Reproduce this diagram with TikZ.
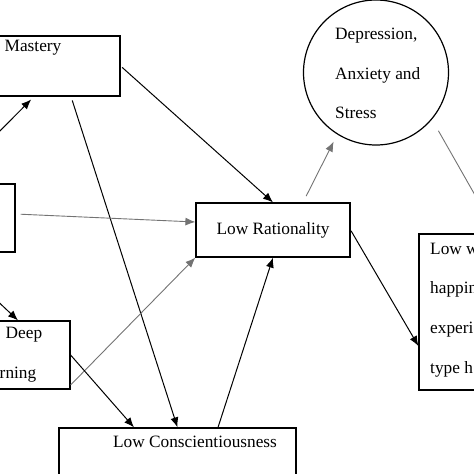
\documentclass[tikz,border=0pt]{standalone}
\usepackage{fontspec}
\setmainfont{Liberation Serif}
\usetikzlibrary{arrows.meta}
\newlength{\du}
\setlength{\du}{1pt}
\tikzset{
  box/.style={draw=black, line width=1.2pt, inner sep=0pt},
  lbl/.style={inner sep=0pt, font=\fontsize{17.3}{20}\selectfont},
  lbltall/.style={inner sep=0pt, align=left, font=\fontsize{17.3}{39.7}\selectfont},
  arr/.style={draw=black, line width=1pt, -{Latex[length=10pt,width=8pt]}},
  garr/.style={draw=black!55, line width=0.9pt, -{Latex[length=10pt,width=8pt]}},
}

\begin{document}
\begin{tikzpicture}
\pgftransformxscale{1.000000}
\pgftransformyscale{-1.000000}
\useasboundingbox (0\du,0\du) rectangle (474\du,474\du);
% boxes
\node[box, minimum width=130\du, minimum height=60\du] (mastery) at (55\du,66\du) {};
\node[lbl] (masterytxt) at (33\du,48\du) {Mastery};
\node[box, minimum width=75\du, minimum height=68\du] (leftbox) at (-22.5\du,218\du) {};
\node[box, minimum width=130\du, minimum height=68\du] (deep) at (5\du,355\du) {};
\node[lbl] (deeptxt) at (24\du,335\du) {Deep};
\node[lbl] (deeptxtb) at (18\du,375\du) {rning};
\node[box, lbl, minimum width=154\du, minimum height=54\du] (lowrat) at (273\du,230\du) {Low Rationality};
\node[box, minimum width=237\du, minimum height=72\du] (lowcon) at (177.5\du,464\du) {};
\node[lbl] (lowcontxt) at (195\du,442\du) {Low Conscientiousness};
\node[box, minimum width=141\du, minimum height=156\du] (rightbox) at (489.5\du,312\du) {};
\node[lbltall, anchor=west] (righttxt) at (430\du,310\du) {Low w\\happin\\experi\\type h};
% circle
\node[draw=black, line width=1.2pt, circle, minimum size=145\du, inner sep=0pt] (circ) at (376\du,72.5\du) {};
\node[lbltall, anchor=west] (circtxt) at (335\du,73.5\du) {Depression,\\Anxiety and\\Stress};
% free ends
\coordinate (in1) at (-10\du,141\du);
\coordinate (in2) at (-10\du,294\du);
\coordinate (out1) at (492\du,225\du);
% connectors
\draw[arr, shorten >=4pt] (in1) -- ([xshift=-21pt]mastery.south);
\draw[arr, shorten <=2pt] (mastery.east) -- (lowrat.north);
\draw[arr, shorten <=4pt] ([xshift=16pt]mastery.south) -- (lowcon.north);
\draw[garr, shorten <=5pt] ([yshift=-4pt]leftbox.east) -- ([yshift=-8pt]lowrat.west);
\draw[arr] (in2) -- ([xshift=13pt]deep.north);
\draw[garr] ([yshift=30pt]deep.east) -- (lowrat.south west);
\draw[arr] (deep.east) -- ([xshift=-43.5pt]lowcon.north);
\draw[arr] ([xshift=40.5pt]lowcon.north) -- (lowrat.south);
\draw[garr, shorten <=7pt, shorten >=8pt] ([xshift=30pt]lowrat.north) -- (circ.238);
\draw[draw=black!55, line width=0.9pt, shorten <=13pt] (circ.320) -- (out1);
\draw[arr, shorten <=1pt] (lowrat.east) -- ([yshift=34pt]rightbox.west);
\end{tikzpicture}
\end{document}
